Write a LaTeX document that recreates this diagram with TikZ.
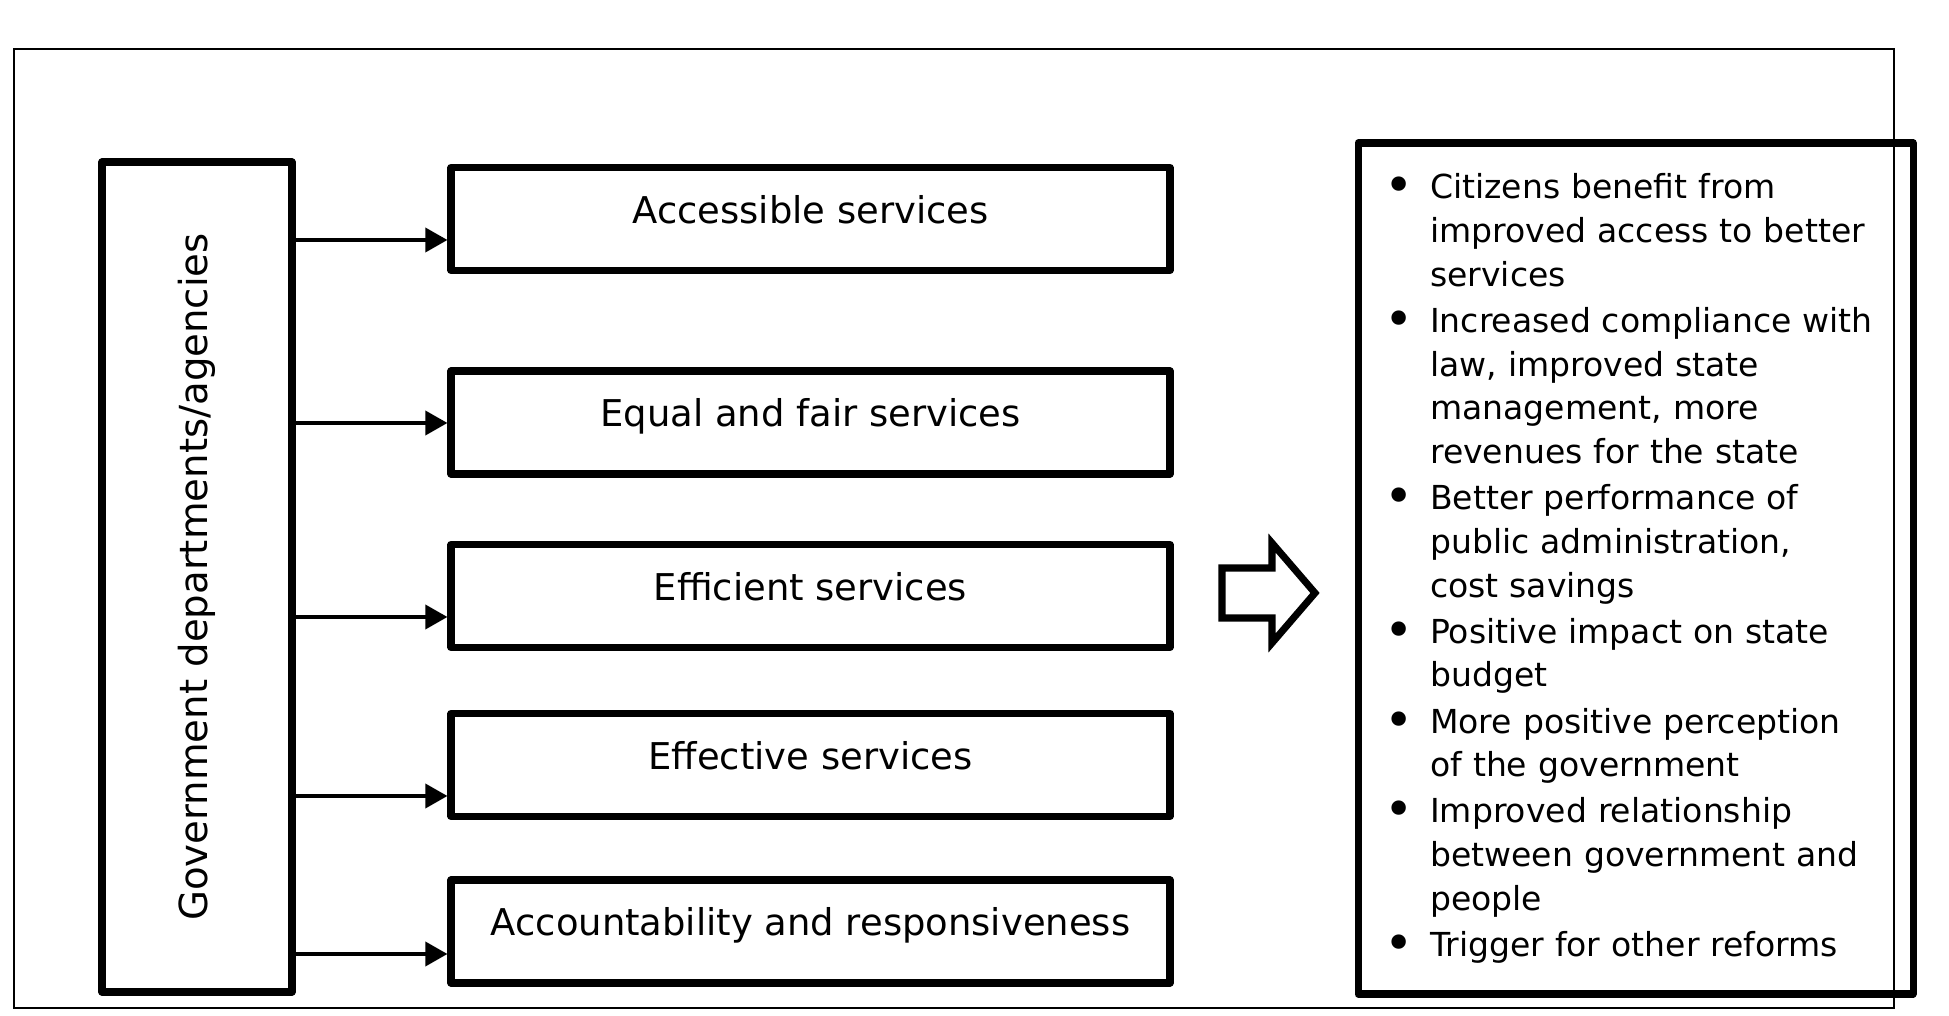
\documentclass[tikz,border=0pt]{standalone}
\usepackage{fontspec}
\usepackage{graphicx}
\setmainfont{DejaVu Sans}
\usepackage{tikz}
\usetikzlibrary{arrows.meta,calc}

\tikzset{
  frame/.style={line width=0.8pt},
  govbox/.style={draw, line width=2pt, line join=round, inner sep=0pt,
    minimum width=19mm, minimum height=83mm, font=\fontsize{11}{13}\selectfont},
  svcbox/.style={draw, line width=2pt, line join=round, inner sep=0pt,
    minimum width=71.9mm, minimum height=10.3mm, text height=3.1mm, text depth=2.2mm,
    font=\fontsize{10.5}{12.6}\selectfont},
  effectbox/.style={draw, line width=2pt, line join=round, inner sep=0pt,
    minimum width=55.5mm, minimum height=85.1mm},
  effecttext/.style={inner sep=0pt, text width=51.1mm, align=left, anchor=north west,
    font=\fontsize{9.4}{12.43}\selectfont},
  link/.style={line width=1.15pt, -{Triangle[length=6.3pt,width=6.8pt]}},
  blockarrow/.style={line width=2pt, miter limit=10}
}

\newcommand{\bigdot}{\raisebox{-0.12em}{\scalebox{1.5}{\textbullet}}}
\newenvironment{effectlist}{%
  \begin{list}{\bigdot}{\setlength{\leftmargin}{5mm}\setlength{\labelwidth}{3.15mm}%
    \setlength{\labelsep}{1.6mm}\setlength{\itemsep}{0.25mm}\setlength{\parsep}{0pt}%
    \setlength{\topsep}{0pt}\setlength{\partopsep}{0pt}}}{\end{list}}

\begin{document}
\begin{tikzpicture}[x=0.1mm,y=-0.1mm]
  \useasboundingbox (0,0) rectangle (1949,1016);

  % outer frame
  \draw[frame] (14,49) rectangle (1894,1008);

  % left column
  \node[govbox] (gov) at (197,577) {\rotatebox{90}{Government departments/agencies}};

  % service boxes
  \node[svcbox] (access) at (810.5,219) {Accessible services};
  \node[svcbox] (equal)  at (810.5,422.5) {Equal and fair services};
  \node[svcbox] (effic)  at (810.5,596) {Efficient services};
  \node[svcbox] (effect) at (810.5,765) {Effective services};
  \node[svcbox] (account) at (810.5,931.5) {Accountability and responsiveness};

  % arrow heights
  \coordinate (h1) at (0,240);
  \coordinate (h2) at (0,423);
  \coordinate (h3) at (0,617);
  \coordinate (h4) at (0,796);
  \coordinate (h5) at (0,954);

  \draw[link] (gov.east |- h1) -- (access.west |- h1);
  \draw[link] (gov.east |- h2) -- (equal.west |- h2);
  \draw[link] (gov.east |- h3) -- (effic.west |- h3);
  \draw[link] (gov.east |- h4) -- (effect.west |- h4);
  \draw[link] (gov.east |- h5) -- (account.west |- h5);

  % big outline arrow
  \draw[blockarrow] (1222,568) -- (1272,568) -- (1272,543) -- (1315,593)
    -- (1272,643) -- (1272,618) -- (1222,618) -- cycle;

  % results
  \node[effectbox] (results) at (1635.5,568.5) {};
  \node[effecttext] (resultlist) at ($(results.north west)+(25,15)$) {%
    \begin{effectlist}
    \item Citizens benefit from\\improved access to better\\services
    \item Increased compliance with\\law, improved state\\management, more\\revenues for the state
    \item Better performance of\\public administration,\\cost savings
    \item Positive impact on state\\budget
    \item More positive perception\\of the government
    \item Improved relationship\\between government and\\people
    \item Trigger for other reforms
    \end{effectlist}};
\end{tikzpicture}
\end{document}
